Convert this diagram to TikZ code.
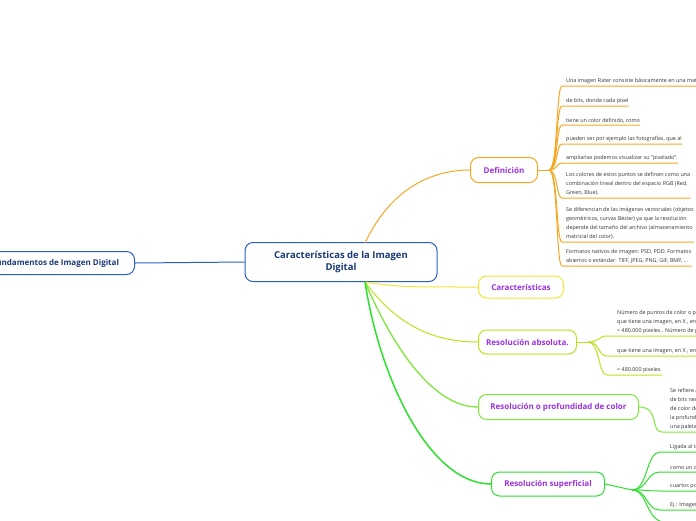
\documentclass[tikz,border=0pt]{standalone}
\usepackage{fontspec}
\setmainfont{Open Sans}
\begin{document}
\begin{tikzpicture}[x=1pt,y=-1pt,
  box/.style={draw=#1,line width=1pt,rounded corners=8pt,fill=white,font=\bfseries\fontsize{8}{10}\selectfont,text=tpur,inner sep=0pt},
  leaf/.style={anchor=south west,inner xsep=0pt,inner ysep=2pt,align=left,font=\fontsize{5.4}{9}\selectfont,text=black!80},
  ul/.style={draw=#1,line width=1pt}]
\definecolor{cor}{HTML}{F5A623}\definecolor{cye}{HTML}{F2E43A}
\definecolor{cab}{HTML}{B5E61D}\definecolor{cpr}{HTML}{7CE83A}
\definecolor{csu}{HTML}{2EE02E}\definecolor{cbl}{HTML}{2B5FC4}
\definecolor{tpur}{HTML}{9B30E0}
\clip (0,0) rectangle (696,520);
\useasboundingbox (0,0) rectangle (696,520);
% central & left
\node[box=cbl,minimum width=192,minimum height=39,text=cbl!60!black,font=\bfseries\fontsize{9.5}{12}\selectfont,align=center] (c) at (341,262) {Características de la Imagen\\Digital};
\node[box=cbl,minimum width=158,minimum height=23,text=cbl!60!black,anchor=east] (f) at (135,263) {Fundamentos de Imagen Digital};
\draw[cbl,line width=1pt] (c.west) -- (f.east);
% branches
\node[box=cor,minimum width=67,minimum height=25,anchor=west] (d) at (470,170) {Definición};
\node[box=cye,minimum width=85,minimum height=22,anchor=west] (k) at (478,287) {Características};
\node[box=cab,minimum width=98,minimum height=24,anchor=west] (a) at (478,342) {Resolución absoluta.};
\node[box=cpr,minimum width=160,minimum height=25,anchor=west] (p) at (478,407) {Resolución o profundidad de color};
\node[box=csu,minimum width=113,minimum height=24,anchor=west] (s) at (491,484) {Resolución superficial};
\coordinate (ct) at (365,243); \coordinate (cb) at (365,282);
\draw[cor,line width=1pt] (ct) .. controls (390,190) and (430,170) .. (d.west);
\draw[cye,line width=1pt] (cb) .. controls (400,287) .. (k.west);
\draw[cab,line width=1pt] (cb) .. controls (400,330) and (440,342) .. (a.west);
\draw[cpr,line width=1.3pt] (cb) .. controls (390,340) and (430,407) .. (p.west);
\draw[csu,line width=1.5pt] (cb) .. controls (380,380) and (430,484) .. (s.west);
% Definicion leaves
\coordinate (db) at (549,170);
\draw[cor,line width=1pt] (d.east) -- (db);
\foreach \n/\y/\t in {1/86/{Una imagen Rater consiste básicamente en una matriz},
 2/106/{de bits, donde cada pixel},
 3/125/{tiene un color definido, como},
 4/144/{pueden ser por ejemplo las fotografías, que al},
 5/163/{ampliarlas podemos visualizar su "pixelado".},
 6/198/{Los colores de estos puntos se definen como una\\combinación lineal dentro del espacio RGB (Red,\\Green, Blue).},
 7/242/{Se diferencian de las imágenes vectoriales (objetos\\geométricos, curvas Bézier) ya que la resolución\\depende del tamaño del archivo (almacenamiento\\matricial del color).},
 8/266/{Formatos nativos de imagen: PSD, PDD. Formatos\\abiertos o estándar: TIFF, JPEG, PNG, GIF, BMP, ...}}{
 \node[leaf] (dl\n) at (566,\y) {\t};
 \draw[cor,line width=1pt] (db) .. controls (558,170) and (556,\y) .. (562,\y) -- (dl\n.south east);
}
% absoluta leaves
\coordinate (ab) at (588,342);
\draw[cab,line width=1pt] (a.east) -- (ab);
\foreach \n/\y/\t in {1/336/{Número de puntos de color o pixeles\\que tiene una imagen, en X , en Y\\= 480.000 pixeles.. Número de puntos},
 2/356/{que tiene una imagen, en X , en Y},
 3/375/{= 480.000 pixeles.}}{
 \node[leaf] (al\n) at (617,\y) {\t};
 \draw[cab,line width=1pt] (ab) .. controls (600,342) and (598,\y) .. (607,\y) -- (al\n.south east);
}
% profundidad leaf
\node[leaf] (pl) at (670,432) {Se refiere al número\\de bits necesarios\\de color del pixel\\la profundidad\\una paleta de};
\draw[cpr,line width=1pt] (p.east) .. controls (660,407) and (650,432) .. (662,432) -- (pl.south east);
% superficial leaves
\coordinate (sb) at (632,490);
\draw[csu,line width=1pt] (s.east) -- (sb);
\foreach \n/\y/\t in {1/452/{Ligada al tamaño},2/472/{como un cuadro},3/491/{cuartos por pulgada},4/510/{Ej.: Imagen de}}{
 \node[leaf] (sl\n) at (670,\y) {\t};
 \draw[csu,line width=1pt] (sb) .. controls (648,490) and (646,\y) .. (660,\y) -- (sl\n.south east);
}
\coordinate (s5) at (665,522);
\draw[csu,line width=1pt] (sb) .. controls (648,490) and (646,522) .. (s5);
\end{tikzpicture}
\end{document}
